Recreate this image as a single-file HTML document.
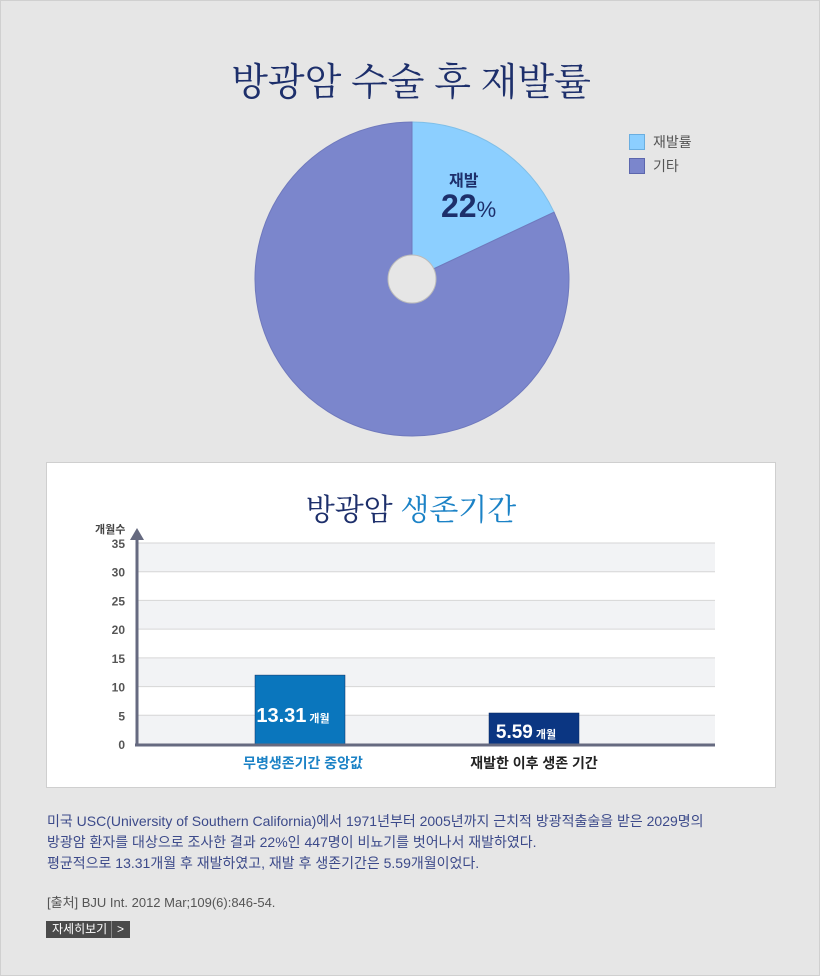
<!DOCTYPE html>
<html><head><meta charset="utf-8"><style>
body{margin:0;background:#e6e6e6;}
#root{position:relative;width:818px;height:974px;border:1px solid #d0d0d0;background:#e6e6e6;font-family:"Liberation Sans","Noto Sans CJK KR",sans-serif;overflow:hidden}
.t{position:absolute;white-space:nowrap}
</style></head><body>
<div id="root">
<div class="t" style="left:0;width:820px;text-align:center;top:50px;font-size:38px;color:#1d2f6b;font-family:'Noto Serif CJK SC','Noto Sans CJK KR',serif">방광암 수술 후 재발률</div>
<svg id="pie" width="820" height="460" style="position:absolute;left:0;top:0"></svg>
<div>
<div style="position:absolute;left:628px;top:133px;width:14px;height:14px;background:#8ccfff;border:1px solid #6aaee0"></div>
<div class="t" style="left:652px;top:131px;font-size:14px;color:#555">재발률</div>
<div style="position:absolute;left:628px;top:157px;width:14px;height:14px;background:#7b86cc;border:1px solid #5c66ad"></div>
<div class="t" style="left:652px;top:155px;font-size:14px;color:#555">기타</div>
</div>
<div class="t" style="left:448px;top:166px;font-size:16px;font-weight:bold;color:#1d2f6b">재발</div>
<div class="t" style="left:440px;top:187px;font-size:32px;font-weight:bold;color:#1d2f6b">22<span style="font-size:22px;font-weight:normal">%</span></div>

<div style="position:absolute;left:45px;top:461px;width:728px;height:324px;background:#fff;border:1px solid #cfcfcf"></div>
<div class="t" style="left:0;width:820px;text-align:center;top:484px;font-size:30px;color:#1d2f6b;font-family:'Noto Serif CJK SC','Noto Sans CJK KR',serif">방광암 <span style="color:#1b82c6">생존기간</span></div>
<svg id="bar" width="820" height="976" style="position:absolute;left:0;top:0"></svg>

<div class="t" style="left:46px;top:810px;font-size:14px;line-height:21px;color:#3c4a8a">미국 USC(University of Southern California)에서 1971년부터 2005년까지 근치적 방광적출술을 받은 2029명의<br>방광암 환자를 대상으로 조사한 결과 22%인 447명이 비뇨기를 벗어나서 재발하였다.<br>평균적으로 13.31개월 후 재발하였고, 재발 후 생존기간은 5.59개월이었다.</div>
<div class="t" style="left:46px;top:891px;font-size:13px;color:#555">[출처] BJU Int. 2012 Mar;109(6):846-54.</div>
<div style="position:absolute;left:45px;top:920px;width:84px;height:17px;background:#4a4a4a;color:#fff;font-size:12px;line-height:17px">
<span style="position:absolute;left:6px">자세히보기</span><span style="position:absolute;left:65px;top:0;width:1px;height:17px;background:#888"></span><span style="position:absolute;left:71px">&gt;</span></div>
</div>
<script>
const NS="http://www.w3.org/2000/svg";
function mk(p,tag,a){const e=document.createElementNS(NS,tag);for(const k in a)e.setAttribute(k,a[k]);p.appendChild(e);return e;}
// pie data
const sliceNames=["recurrence","other"];
const sliceValues=[18,82];
const sliceColors=["#8ccfff","#7b86cc"];
const pie=document.getElementById("pie");
const cx=411,cy=278,r=157;
let total=sliceValues.reduce((a,b)=>a+b,0),acc=0;
sliceValues.forEach((v,i)=>{
 const a0=acc/total*2*Math.PI;acc+=v;const a1=acc/total*2*Math.PI;
 const x0=cx+r*Math.sin(a0),y0=cy-r*Math.cos(a0),x1=cx+r*Math.sin(a1),y1=cy-r*Math.cos(a1);
 const large=(a1-a0)>Math.PI?1:0;
 const p=mk(pie,"path",{d:`M${cx},${cy}L${x0},${y0}A${r},${r} 0 ${large} 1 ${x1},${y1}Z`,fill:sliceColors[i],stroke:i?"#6f79bd":"#7fbfe8","stroke-width":1});
 
 
});
const hole=mk(pie,"circle",{cx:cx,cy:cy,r:24,fill:"#e6e6e6",stroke:"#bbb"});



// bar data
const categories=["무병생존기간 중앙값","재발한 이후 생존 기간"];
const barValues=[12.0,5.4];
const valueLabels=["13.31","5.59"];
const yTicks=[0,5,10,15,20,25,30,35];
const barColors=["#0a76bd","#0b3682"];
const catColors=["#1b82c6","#222"];
const svg=document.getElementById("bar");
const x0=136,x1=714,yb=743,yt=542,yMax=35;
const y=v=>yb-(v/yMax)*(yb-yt);
for(let i=0;i<yTicks.length-1;i++){
 const band=mk(svg,"rect",{x:x0,y:y(yTicks[i+1]),width:x1-x0,height:y(yTicks[i])-y(yTicks[i+1]),fill:i%2==0?"#f2f3f5":"#fff"});
 
 
}
yTicks.forEach(t=>{
 if(t>0){const l=mk(svg,"line",{x1:x0,x2:x1,y1:y(t),y2:y(t),stroke:"#d6d6d6"});
 
 }
 const tx=mk(svg,"text",{x:124,y:y(t)+5,"text-anchor":"end","font-size":12,"font-weight":"bold",fill:"#555"});
 tx.textContent=t;
 
 
});
const bw=(x1-x0)/categories.length;
categories.forEach((c,i)=>{
 const cxm=[300,533][i];
 const w=i==0?90:90;
 const b=mk(svg,"rect",{x:cxm-w/2+(i==0?-1:0),y:y(barValues[i]),width:w,height:yb-y(barValues[i]),fill:barColors[i],stroke:"#0a2a60","stroke-width":0.5});
 
 
 const vt=mk(svg,"text",{x:cxm-8,y:i==0?721:737,"text-anchor":"middle","font-size":i==0?20:19,"font-weight":"bold",fill:"#fff"});
 vt.innerHTML=valueLabels[i]+'<tspan font-size="11" dx="3">개월</tspan>';
 
 
 const ct=mk(svg,"text",{x:cxm+(i==0?2:0),y:767,"text-anchor":"middle","font-size":14,"font-weight":"bold",fill:catColors[i]});
 ct.textContent=c;
 
 
});
const ax=mk(svg,"path",{d:`M${x0},${yb}V536M${x0-2},${yb+1}H${x1}`,stroke:"#666a80","stroke-width":3,fill:"none"});


const ar=mk(svg,"path",{d:`M${x0-7},539L${x0},527L${x0+7},539Z`,fill:"#666a80"});


const yl=mk(svg,"text",{x:94,y:532,"font-size":11,"font-weight":"bold",fill:"#444"});
yl.textContent="개월수";


</script>
</body></html>
